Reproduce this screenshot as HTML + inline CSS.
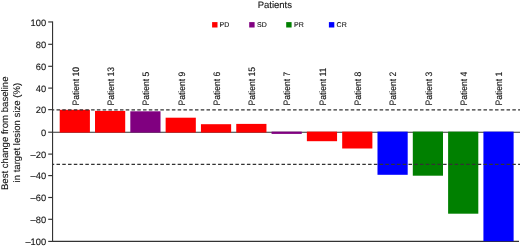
<!DOCTYPE html><html><head><meta charset="utf-8"><style>html,body{margin:0;padding:0;background:#fff;width:520px;height:247px;overflow:hidden}svg{display:block}text{text-rendering:geometricPrecision;font-family:"Liberation Sans",Arial,Helvetica,sans-serif;fill:#111;stroke:#111;stroke-width:0.1px}</style></head><body>
<svg width="520" height="247" viewBox="0 0 520 247">
<line x1="52.55" y1="132.2" x2="520" y2="132.2" stroke="#333" stroke-width="1.15"/>
<line x1="52.55" y1="241.4" x2="519" y2="241.4" stroke="#333" stroke-width="1.15"/>
<rect x="59.7" y="109.8" width="30.2" height="22.75" fill="#ff0000"/>
<rect x="95.01" y="110.9" width="30.2" height="21.65" fill="#ff0000"/>
<rect x="130.32" y="111.3" width="30.2" height="21.25" fill="#800080"/>
<rect x="165.63" y="117.7" width="30.2" height="14.85" fill="#ff0000"/>
<rect x="200.94" y="124.2" width="30.2" height="8.35" fill="#ff0000"/>
<rect x="236.25" y="123.9" width="30.2" height="8.65" fill="#ff0000"/>
<rect x="271.56" y="131.65" width="30.2" height="2.25" fill="#800080"/>
<rect x="306.87" y="131.65" width="30.2" height="9.55" fill="#ff0000"/>
<rect x="342.18" y="131.65" width="30.2" height="16.85" fill="#ff0000"/>
<rect x="377.49" y="131.65" width="30.2" height="43.15" fill="#0000ff"/>
<rect x="412.8" y="131.65" width="30.2" height="44.05" fill="#008000"/>
<rect x="448.11" y="131.65" width="30.2" height="82.05" fill="#008000"/>
<rect x="483.42" y="131.65" width="30.2" height="109.55" fill="#0000ff"/>
<line x1="52.55" y1="109.9" x2="520" y2="109.9" stroke="#333" stroke-width="1.15" stroke-dasharray="3.5 2.27" stroke-dashoffset="1.82"/>
<line x1="52.55" y1="164.4" x2="520" y2="164.4" stroke="#333" stroke-width="1.15" stroke-dasharray="3.5 2.27" stroke-dashoffset="1.82"/>
<line x1="52.55" y1="21.45" x2="52.55" y2="241.9" stroke="#333" stroke-width="1.15"/>
<line x1="48.2" y1="21.95" x2="52.55" y2="21.95" stroke="#333" stroke-width="1.15"/>
<text x="46.1" y="25.55" font-size="9.3" text-anchor="end">100</text>
<line x1="48.2" y1="44.3" x2="52.55" y2="44.3" stroke="#333" stroke-width="1.15"/>
<text x="46.1" y="47.9" font-size="9.3" text-anchor="end">80</text>
<line x1="48.2" y1="66.3" x2="52.55" y2="66.3" stroke="#333" stroke-width="1.15"/>
<text x="46.1" y="69.9" font-size="9.3" text-anchor="end">60</text>
<line x1="48.2" y1="88.1" x2="52.55" y2="88.1" stroke="#333" stroke-width="1.15"/>
<text x="46.1" y="91.7" font-size="9.3" text-anchor="end">40</text>
<line x1="48.2" y1="109.65" x2="52.55" y2="109.65" stroke="#333" stroke-width="1.15"/>
<text x="46.1" y="113.25" font-size="9.3" text-anchor="end">20</text>
<line x1="48.2" y1="132.2" x2="52.55" y2="132.2" stroke="#333" stroke-width="1.15"/>
<text x="46.1" y="135.8" font-size="9.3" text-anchor="end">0</text>
<line x1="48.2" y1="154.1" x2="52.55" y2="154.1" stroke="#333" stroke-width="1.15"/>
<text x="46.1" y="157.7" font-size="9.3" text-anchor="end">–20</text>
<line x1="48.2" y1="175.6" x2="52.55" y2="175.6" stroke="#333" stroke-width="1.15"/>
<text x="46.1" y="179.2" font-size="9.3" text-anchor="end">–40</text>
<line x1="48.2" y1="197.5" x2="52.55" y2="197.5" stroke="#333" stroke-width="1.15"/>
<text x="46.1" y="201.1" font-size="9.3" text-anchor="end">–60</text>
<line x1="48.2" y1="219.3" x2="52.55" y2="219.3" stroke="#333" stroke-width="1.15"/>
<text x="46.1" y="222.9" font-size="9.3" text-anchor="end">–80</text>
<line x1="48.2" y1="241.4" x2="52.55" y2="241.4" stroke="#333" stroke-width="1.15"/>
<text x="46.1" y="245" font-size="9.3" text-anchor="end">–100</text>
<text transform="translate(78.6,105.5) rotate(-90) scale(0.91,1)" font-size="9.4">Patient 10</text>
<text transform="translate(113.91,105.5) rotate(-90) scale(0.91,1)" font-size="9.4">Patient 13</text>
<text transform="translate(149.22,105.5) rotate(-90) scale(0.91,1)" font-size="9.4">Patient 5</text>
<text transform="translate(184.53,105.5) rotate(-90) scale(0.91,1)" font-size="9.4">Patient 9</text>
<text transform="translate(219.84,105.5) rotate(-90) scale(0.91,1)" font-size="9.4">Patient 6</text>
<text transform="translate(255.15,105.5) rotate(-90) scale(0.91,1)" font-size="9.4">Patient 15</text>
<text transform="translate(290.46,105.5) rotate(-90) scale(0.91,1)" font-size="9.4">Patient 7</text>
<text transform="translate(325.77,105.5) rotate(-90) scale(0.91,1)" font-size="9.4">Patient 11</text>
<text transform="translate(361.08,105.5) rotate(-90) scale(0.91,1)" font-size="9.4">Patient 8</text>
<text transform="translate(396.39,105.5) rotate(-90) scale(0.91,1)" font-size="9.4">Patient 2</text>
<text transform="translate(431.7,105.5) rotate(-90) scale(0.91,1)" font-size="9.4">Patient 3</text>
<text transform="translate(467.01,105.5) rotate(-90) scale(0.91,1)" font-size="9.4">Patient 4</text>
<text transform="translate(502.32,105.5) rotate(-90) scale(0.91,1)" font-size="9.4">Patient 1</text>
<text transform="translate(8.3,133.3) rotate(-90)" font-size="9.6" text-anchor="middle">Best change from baseline</text>
<text transform="translate(20,132.6) rotate(-90)" font-size="9.6" text-anchor="middle">in target lesion size (%)</text>
<text x="274.8" y="7.7" font-size="9.5" text-anchor="middle">Patients</text>
<rect x="212.1" y="22.1" width="5.4" height="5.4" fill="#ff0000"/>
<text x="219.5" y="26.9" font-size="7.0">PD</text>
<rect x="249.2" y="22.1" width="5.4" height="5.4" fill="#800080"/>
<text x="257" y="26.9" font-size="7.0">SD</text>
<rect x="286.2" y="22.1" width="5.4" height="5.4" fill="#008000"/>
<text x="294.1" y="26.9" font-size="7.0">PR</text>
<rect x="328.9" y="22.1" width="5.4" height="5.4" fill="#0000ff"/>
<text x="336.6" y="26.9" font-size="7.0">CR</text>
</svg></body></html>
